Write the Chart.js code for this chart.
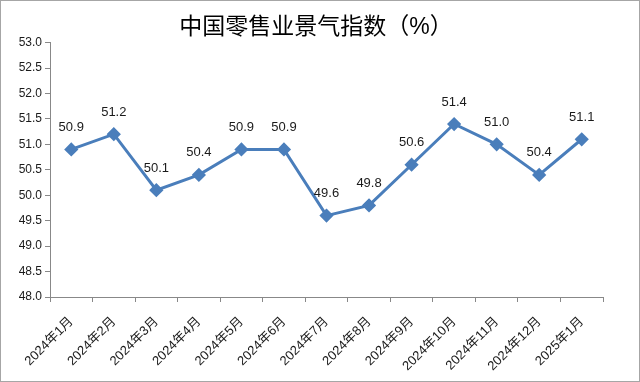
<!DOCTYPE html>
<html>
<head>
<meta charset="utf-8">
<script src="https://cdn.jsdelivr.net/npm/chart.js@4"></script>
<style>
  html, body { margin: 0; padding: 0; background: #fff; }
  #wrap { width: 640px; height: 382px; position: relative; }
</style>
</head>
<body>
<div id="wrap"><canvas id="retailChart" width="640" height="382"></canvas></div>
<script>
// Data
const months = ['2024年1月', '2024年2月', '2024年3月', '2024年4月', '2024年5月', '2024年6月',
                '2024年7月', '2024年8月', '2024年9月', '2024年10月', '2024年11月', '2024年12月', '2025年1月']
const indexValues = [50.9, 51.2, 50.1, 50.4, 50.9, 50.9, 49.6, 49.8, 50.6, 51.4, 51.0, 50.4, 51.1]
const yMin = 48.0, yMax = 53.0, yStep = 0.5
const chartTitle = '中国零售业景气指数（%）'

const fontFamily = '"Liberation Sans", "Noto Sans CJK SC", sans-serif'

/* Outer frame + title (title centred on the whole picture, not the plot) */
const framePlugin = {
  id: 'frame',
  beforeDraw(chart){
    const c = chart.ctx
    c.save()
    c.fillStyle = '#fff'
    c.fillRect(0, 0, chart.width, chart.height)
    c.strokeStyle = '#a6a6a6'
    c.lineWidth = 1
    c.strokeRect(0.5, 0.5, chart.width - 1, chart.height - 1)
    c.restore()
  },
  afterDraw(chart){
    const c = chart.ctx
    c.save()
    c.font = '23px ' + fontFamily
    c.fillStyle = '#000'
    c.textAlign = 'center'
    c.textBaseline = 'middle'
    c.fillText(chartTitle, 316, 28)
    c.restore()
  }
}

/* Value labels above the points */
const valueLabels = {
  id: 'valueLabels',
  afterDatasetsDraw(chart){
    const c = chart.ctx
    const meta = chart.getDatasetMeta(0)
    c.save()
    c.font = '13px ' + fontFamily
    c.fillStyle = '#1a1a1a'
    c.textAlign = 'center'
    c.textBaseline = 'middle'
    meta.data.forEach((pt, i) => {
      c.fillText(indexValues[i].toFixed(1), pt.x, pt.y - 22)
    })
    c.restore()
  }
}

const ctx = document.getElementById('retailChart').getContext('2d')
new Chart(ctx, {
  type: 'line',
  data: {
    labels: months,
    datasets: [{
      label: '零售业景气指数',
      data: indexValues,
      borderColor: '#4a7ebb',
      backgroundColor: '#4a7ebb',
      borderWidth: 3,
      pointStyle: 'rectRot',
      pointRadius: 5,
      pointHoverRadius: 5,
      tension: 0,
      fill: false
    }]
  },
  options: {
    responsive: false,
    animation: false,
    layout: { padding: { left: 0, right: 37, top: 0, bottom: 0 } },
    plugins: {
      legend: { display: false },
      tooltip: { enabled: false },
      title: {
        // keeps the space for the title; the text itself is drawn by framePlugin
        display: true,
        text: chartTitle,
        color: 'rgba(0,0,0,0)',
        font: { family: fontFamily, size: 23, weight: 'normal' },
        padding: { top: 13, bottom: 2 }
      }
    },
    scales: {
      x: {
        offset: true,
        afterFit: s => { s.height = 85 },
        grid: { drawOnChartArea: false, drawTicks: true, tickLength: 5, color: '#888', offset: true },
        border: { color: '#888', width: 1 },
        ticks: {
          color: '#1a1a1a',
          font: { family: fontFamily, size: 13 },
          minRotation: 45,
          maxRotation: 45,
          autoSkip: false,
          padding: 12
        }
      },
      y: {
        min: yMin,
        max: yMax,
        afterFit: s => { s.width = 50 },
        grid: { drawOnChartArea: false, drawTicks: true, tickLength: 5, color: '#888' },
        border: { color: '#888', width: 1 },
        ticks: {
          stepSize: yStep,
          color: '#1a1a1a',
          font: { family: fontFamily, size: 12 },
          padding: 3,
          callback: v => Number(v).toFixed(1)
        }
      }
    }
  },
  plugins: [framePlugin, valueLabels]
})
</script>
</body>
</html>
